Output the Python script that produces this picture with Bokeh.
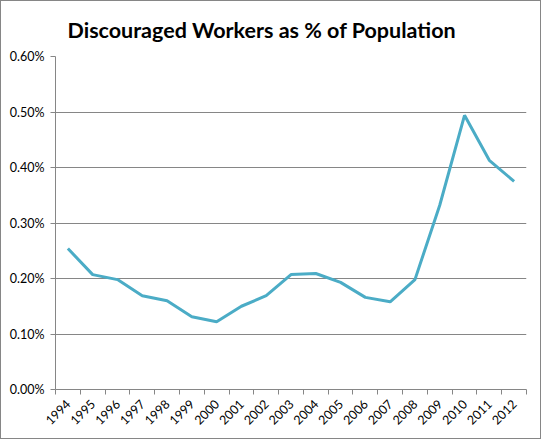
import math

from bokeh.embed import file_html
from bokeh.models import FixedTicker, PrintfTickFormatter, Range1d
from bokeh.plotting import figure
from bokeh.resources import INLINE

# data (percent of population)
years = [1994, 1995, 1996, 1997, 1998, 1999, 2000, 2001, 2002, 2003,
         2004, 2005, 2006, 2007, 2008, 2009, 2010, 2011, 2012]
discouraged_pct = [0.254, 0.207, 0.198, 0.169, 0.160, 0.131, 0.122, 0.150, 0.169, 0.207,
                   0.209, 0.193, 0.166, 0.158, 0.198, 0.332, 0.494, 0.413, 0.375]
y_ticks = [0.0, 0.1, 0.2, 0.3, 0.4, 0.5, 0.6]

GREY = "#868686"
FONT = "Lato"

xs = list(range(len(years)))

p = figure(title="Discouraged Workers as % of Population",
           frame_width=471, frame_height=333,
           min_border_left=54, min_border_right=14,
           min_border_top=55, min_border_bottom=49,
           x_range=Range1d(-0.5, len(years) - 0.5),
           y_range=Range1d(0, 0.6),
           output_backend="svg", toolbar_location=None)
p.styles = {"border": "1px solid " + GREY}

p.line(xs, discouraged_pct, line_color="#4BACC6", line_width=3)

# title
p.title.align = "left"
p.title.text_font = FONT
p.title.text_font_size = "21.5px"
p.title.text_font_style = "bold"
p.title.text_color = "black"
p.title.offset = 12
p.title.standoff = 27

p.outline_line_color = None

# x axis: labels at category centres, tick marks between categories
p.xaxis.ticker = FixedTicker(ticks=xs, minor_ticks=[i - 0.5 for i in range(len(years) + 1)])
p.xaxis.major_label_overrides = {i: str(y) for i, y in zip(xs, years)}
p.xaxis.major_label_orientation = math.pi / 4
p.xaxis.major_tick_line_color = None
p.xaxis.minor_tick_in = 0
p.xaxis.minor_tick_out = 5
p.xaxis.minor_tick_line_color = GREY
p.xgrid.grid_line_color = None

# y axis
p.yaxis.ticker = FixedTicker(ticks=y_ticks)
p.yaxis.formatter = PrintfTickFormatter(format="%.2f%%")
p.yaxis.major_tick_in = 0
p.yaxis.major_tick_out = 5
p.yaxis.major_tick_line_color = GREY
p.yaxis.minor_tick_line_color = None
p.ygrid.grid_line_color = GREY
p.ygrid.ticker = FixedTicker(ticks=y_ticks)

for ax in (p.xaxis, p.yaxis):
    ax.axis_line_color = GREY
    ax.major_label_text_font = FONT
    ax.major_label_text_font_size = "12.5px"
    ax.major_label_text_color = "black"
    ax.major_label_standoff = 6

open("out.html", "w").write(file_html(p, INLINE))
